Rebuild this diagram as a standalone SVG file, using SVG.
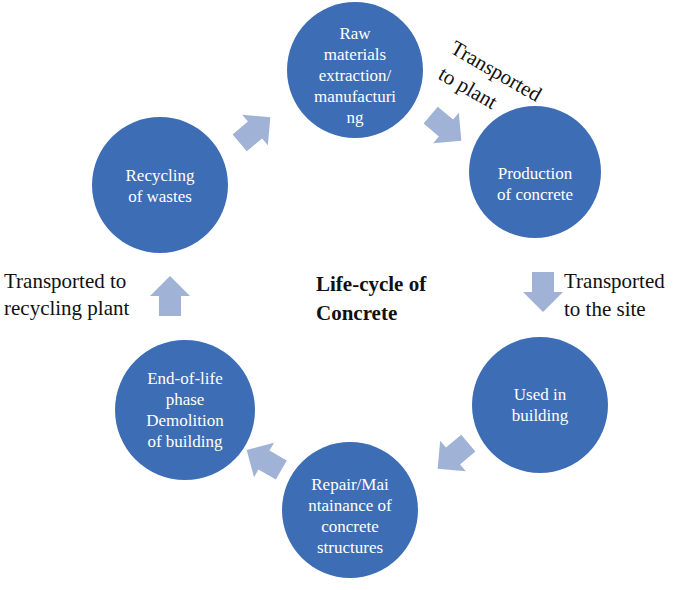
<svg xmlns="http://www.w3.org/2000/svg" width="685" height="590" viewBox="0 0 685 590">
<style>
.c{fill:#3d6db4}
.t{font-family:"Liberation Serif","Times New Roman","DejaVu Serif",serif;font-size:17px;fill:#fff;text-anchor:middle}
.l{font-family:"Liberation Serif","Times New Roman","DejaVu Serif",serif;font-size:21px;fill:#111}
.a{fill:#a0b2d6}
</style>
<defs><polygon id="ar" points="-20,-11 0,-11 0,-20 20,0 0,20 0,11 -20,11"/></defs>
<rect width="685" height="590" fill="#fff"/>
<g id="raw"><circle class="c" cx="355" cy="70" r="68"/><text class="t"><tspan x="355" y="39">Raw</tspan><tspan x="355" y="60">materials</tspan><tspan x="355" y="81">extraction/</tspan><tspan x="355" y="102">manufacturi</tspan><tspan x="355" y="123">ng</tspan></text></g>
<g id="prod"><circle class="c" cx="535" cy="172" r="66"/><text class="t"><tspan x="535" y="179">Production</tspan><tspan x="535" y="200">of concrete</tspan></text></g>
<g id="used"><circle class="c" cx="540" cy="405" r="68"/><text class="t"><tspan x="540" y="400">Used in</tspan><tspan x="540" y="421">building</tspan></text></g>
<g id="repair"><circle class="c" cx="350" cy="510" r="68"/><text class="t"><tspan x="350" y="490">Repair/Mai</tspan><tspan x="350" y="511">ntainance of</tspan><tspan x="350" y="532">concrete</tspan><tspan x="350" y="553">structures</tspan></text></g>
<g id="eol"><circle class="c" cx="185" cy="410" r="70"/><text class="t"><tspan x="185" y="384">End-of-life</tspan><tspan x="185" y="405">phase</tspan><tspan x="185" y="426">Demolition</tspan><tspan x="185" y="447">of building</tspan></text></g>
<g id="recyc"><circle class="c" cx="160" cy="185" r="68"/><text class="t"><tspan x="160" y="181">Recycling</tspan><tspan x="160" y="202">of wastes</tspan></text></g>
<g id="connectors">
<use href="#ar" class="a" transform="translate(255,130) rotate(-40)"/>
<use href="#ar" class="a" transform="translate(446,128) rotate(40)"/>
<use href="#ar" class="a" transform="translate(543,292) rotate(90)"/>
<use href="#ar" class="a" transform="translate(453,456) rotate(140)"/>
<use href="#ar" class="a" transform="translate(264,460) rotate(210)"/>
<use href="#ar" class="a" transform="translate(170,296) rotate(-90)"/>
</g>
<text class="l" transform="translate(449,52) rotate(30)">Transported</text>
<text class="l" transform="translate(437,78) rotate(30)">to plant</text>
<text class="l" x="564" y="288">Transported</text>
<text class="l" x="564" y="316">to the site</text>
<text class="l" x="4" y="288">Transported to</text>
<text class="l" x="4" y="315">recycling plant</text>
<text class="l" x="316" y="291" font-weight="bold">Life-cycle of</text>
<text class="l" x="316" y="320" font-weight="bold">Concrete</text>
</svg>
